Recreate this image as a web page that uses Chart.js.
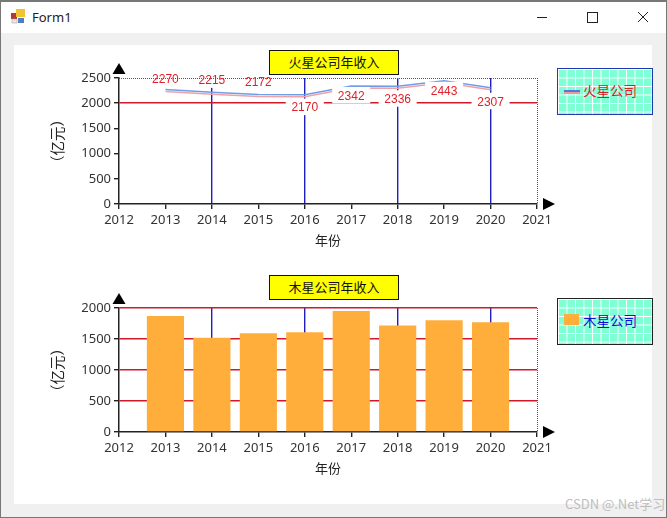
<!DOCTYPE html>
<html lang="zh">
<head>
<meta charset="UTF-8">
<title>Form1</title>
<script src="https://cdn.jsdelivr.net/npm/chart.js"></script>
<style type="text/css">
  html, body { margin: 0; padding: 0; }
  body {
    width: 667px; height: 518px; position: relative; overflow: hidden;
    background: #f0f0f0;
    font-family: "Noto Sans CJK SC", "Noto Sans", sans-serif;
  }
  .frame { position: absolute; left: 0; top: 0; width: 665px; height: 515px; border: 1px solid #777; border-top-width: 2px; }
  .titlebar { position: absolute; left: 1px; top: 2px; width: 665px; height: 31px; background: #fff; }
  .form-name { position: absolute; left: 31px; top: 7px; font-size: 13px; line-height: 16px; color: #222; font-family: "Noto Sans", sans-serif; }
  .panel { position: absolute; left: 14px; top: 45px; width: 638px; height: 459px; background: #fff; }
  canvas { position: absolute; left: 14px; }
  .title-box {
    position: absolute; left: 269px; width: 128px; height: 23px; line-height: 22px;
    background: #ffff00; border: 1px solid #111; text-align: center; font-size: 13px; color: #111;
  }
  .legend-box {
    position: absolute; left: 557px; width: 94px; height: 45px; line-height: 42px;
    background-color: #7fffd4;
    background-image: linear-gradient(#fff 1px, transparent 1px), linear-gradient(90deg, #fff 1px, transparent 1px);
    background-size: 8.5px 8.5px;
    font-size: 13.5px;
  }
  .legend-box span { position: absolute; left: 25px; top: 0; }
  .swatch-line { position: absolute; left: 6px; top: 21px; width: 16px; height: 2px; background: #5578d8; border-bottom: 2px solid #e89aa0; }
  .swatch-bar { position: absolute; left: 6px; top: 15px; width: 15px; height: 11px; background: #ffae3c; }
  .watermark { position: absolute; left: 565px; top: 495px; font-size: 13px; line-height: 18px; color: #bdbdbd; white-space: nowrap; font-family: "Noto Sans CJK SC", sans-serif; }
</style>
</head>
<body>
<div class="frame"></div>
<div class="titlebar">
  <svg style="position:absolute;left:10px;top:6px" width="15" height="16">
    <rect x="0" y="5" width="6" height="6" fill="#b33a2c"/>
    <rect x="5" y="1" width="9" height="8" fill="#f2c230"/>
    <rect x="1" y="11" width="5" height="4" fill="#e8e8e8" stroke="#999" stroke-width="0.5"/>
    <rect x="7" y="10" width="6" height="5" fill="#4f7fc0"/>
  </svg>
  <div class="form-name">Form1</div>
  <svg style="position:absolute;left:530px;top:6px" width="125" height="18" fill="none" stroke="#222" stroke-width="1">
    <line x1="6" y1="9.5" x2="16" y2="9.5"/>
    <rect x="56.5" y="4.5" width="10" height="10"/>
    <line x1="107" y1="4" x2="117" y2="14"/>
    <line x1="117" y1="4" x2="107" y2="14"/>
  </svg>
</div>
<div class="panel"></div>
<canvas id="marsChart" width="560" height="201" style="top:55px"></canvas>
<canvas id="jupiterChart" width="560" height="199" style="top:285px"></canvas>
<div class="title-box" id="marsTitle" style="top:50px"></div>
<div class="title-box" id="jupiterTitle" style="top:275px"></div>
<div class="legend-box" style="top:68px;border:1px solid #2038b0;color:#d81e28"><i class="swatch-line"></i><span id="marsLegend"></span></div>
<div class="legend-box" style="top:298px;border:1px solid #222;color:#1010d0"><i class="swatch-bar"></i><span id="jupiterLegend"></span></div>
<div class="watermark">CSDN @.Net学习</div>

<script>
const years = [2013, 2014, 2015, 2016, 2017, 2018, 2019, 2020];
const marsRevenue = [2270, 2215, 2172, 2170, 2342, 2336, 2443, 2307];
const jupiterRevenue = [1870, 1522, 1592, 1608, 1952, 1716, 1801, 1769];
const marsName = '火星公司';
const jupiterName = '木星公司';
const marsTitleText = '火星公司年收入';
const jupiterTitleText = '木星公司年收入';
const xAxisTitle = '年份';
const yAxisTitle = '（亿元）';

// how far each value label sits from its point (px)
const marsLabelShift = [-10, -12, -12, 13, 10, 13, 10, 14];

const tickFont = { family: '"Noto Sans", sans-serif', size: 13 };
const cjkFont = { family: '"Noto Sans CJK SC", sans-serif', size: 13 };

document.getElementById('marsTitle').textContent = marsTitleText;
document.getElementById('jupiterTitle').textContent = jupiterTitleText;
document.getElementById('marsLegend').textContent = marsName;
document.getElementById('jupiterLegend').textContent = jupiterName;

// arrow heads on both axes, dotted frame on the far sides
const axisExtras = {
  id: 'axisExtras',
  afterDraw(chart, args, opts) {
    const { ctx, chartArea: a } = chart;
    ctx.save();
    ctx.strokeStyle = '#a03848';
    ctx.lineWidth = 1;
    ctx.setLineDash([1, 1]);
    ctx.beginPath();
    if (opts.dottedTop) {
      ctx.moveTo(a.left, Math.round(a.top) + 0.5);
      ctx.lineTo(a.right, Math.round(a.top) + 0.5);
    }
    ctx.moveTo(Math.round(a.right) + 0.5, a.top);
    ctx.lineTo(Math.round(a.right) + 0.5, a.bottom);
    ctx.stroke();
    ctx.setLineDash([]);
    ctx.fillStyle = '#000';
    ctx.beginPath();
    ctx.moveTo(a.left, a.top - 15);
    ctx.lineTo(a.left + 6.5, a.top - 4);
    ctx.lineTo(a.left - 6.5, a.top - 4);
    ctx.closePath();
    ctx.fill();
    ctx.beginPath();
    ctx.moveTo(a.right + 18, a.bottom);
    ctx.lineTo(a.right + 6, a.bottom - 6);
    ctx.lineTo(a.right + 6, a.bottom + 6);
    ctx.closePath();
    ctx.fill();
    ctx.restore();
  }
};

// pink edge under the line
const lineEdge = {
  id: 'lineEdge',
  beforeDatasetDraw(chart) {
    const ctx = chart.ctx;
    ctx.save();
    ctx.shadowColor = '#f0a0a8';
    ctx.shadowOffsetX = 0;
    ctx.shadowOffsetY = 2;
    ctx.shadowBlur = 0;
  },
  afterDatasetDraw(chart) {
    chart.ctx.restore();
  }
};

// value labels on a white box
const valueLabels = {
  id: 'valueLabels',
  afterDatasetsDraw(chart) {
    const { ctx, scales } = chart;
    ctx.save();
    ctx.font = '12px "Liberation Sans", sans-serif';
    ctx.textAlign = 'center';
    ctx.textBaseline = 'middle';
    years.forEach((year, i) => {
      const x = scales.x.getPixelForValue(year);
      const y = scales.y.getPixelForValue(marsRevenue[i]) + marsLabelShift[i];
      ctx.fillStyle = '#fff';
      ctx.fillRect(x - 19, y - 9, 38, 16.5);
      ctx.fillStyle = '#e0202c';
      ctx.fillText(marsRevenue[i], x, y + 0.5);
    });
    ctx.restore();
  }
};

function axes(yMax, redLine) {
  return {
    x: {
      type: 'linear', min: 2012, max: 2021, offset: false,
      afterFit: s => { s.height = 52; },
      afterBuildTicks: s => { s.ticks = []; for (let v = 2012; v <= 2021; v++) s.ticks.push({ value: v }); },
      border: { color: '#222', width: 1.5 },
      grid: {
        offset: false,
        color: c => (c.tick && c.tick.value % 2 === 0 && c.tick.value !== 2012) ? '#2020c0' : 'rgba(0,0,0,0)',
        tickColor: '#222', tickLength: 5, lineWidth: 1.4
      },
      ticks: { color: '#333', font: tickFont, padding: 3, maxRotation: 0, autoSkip: false, callback: v => String(v) },
      title: { display: true, text: xAxisTitle, color: '#222', font: cjkFont, padding: { top: 0, bottom: 8 } }
    },
    y: {
      min: 0, max: yMax,
      afterFit: s => { s.width = 105; },
      border: { color: '#222', width: 1.5 },
      grid: {
        color: c => (c.tick && redLine(c.tick.value)) ? '#d01828' : 'rgba(0,0,0,0)',
        tickColor: '#222', tickLength: 5, lineWidth: 1.4
      },
      ticks: { color: '#333', font: tickFont, padding: 3, stepSize: 500, callback: v => String(v) },
      title: { display: true, text: yAxisTitle, color: '#222', font: { family: cjkFont.family, size: 14.5 }, padding: { top: 35, bottom: 0 } }
    }
  };
}

new Chart(document.getElementById('marsChart'), {
  type: 'line',
  data: {
    datasets: [{
      label: marsName,
      data: years.map((y, i) => ({ x: y, y: marsRevenue[i] })),
      borderColor: '#6f9ee6',
      borderWidth: 1.5,
      pointRadius: 0,
      tension: 0,
      fill: false
    }]
  },
  options: {
    responsive: false,
    animation: false,
    layout: { padding: { top: 23, right: 37 } },
    scales: axes(2500, v => v === 2000),
    plugins: { legend: { display: false }, tooltip: { enabled: false }, axisExtras: { dottedTop: true } }
  },
  plugins: [axisExtras, lineEdge, valueLabels]
});

new Chart(document.getElementById('jupiterChart'), {
  type: 'bar',
  data: {
    datasets: [{
      label: jupiterName,
      data: years.map((y, i) => ({ x: y, y: jupiterRevenue[i] })),
      backgroundColor: '#ffae3c',
      barPercentage: 1,
      categoryPercentage: 0.8
    }]
  },
  options: {
    responsive: false,
    animation: false,
    layout: { padding: { top: 23, right: 37 } },
    scales: axes(2000, v => v > 0),
    plugins: { legend: { display: false }, tooltip: { enabled: false }, axisExtras: { dottedTop: false } }
  },
  plugins: [axisExtras]
});
</script>
</body>
</html>
